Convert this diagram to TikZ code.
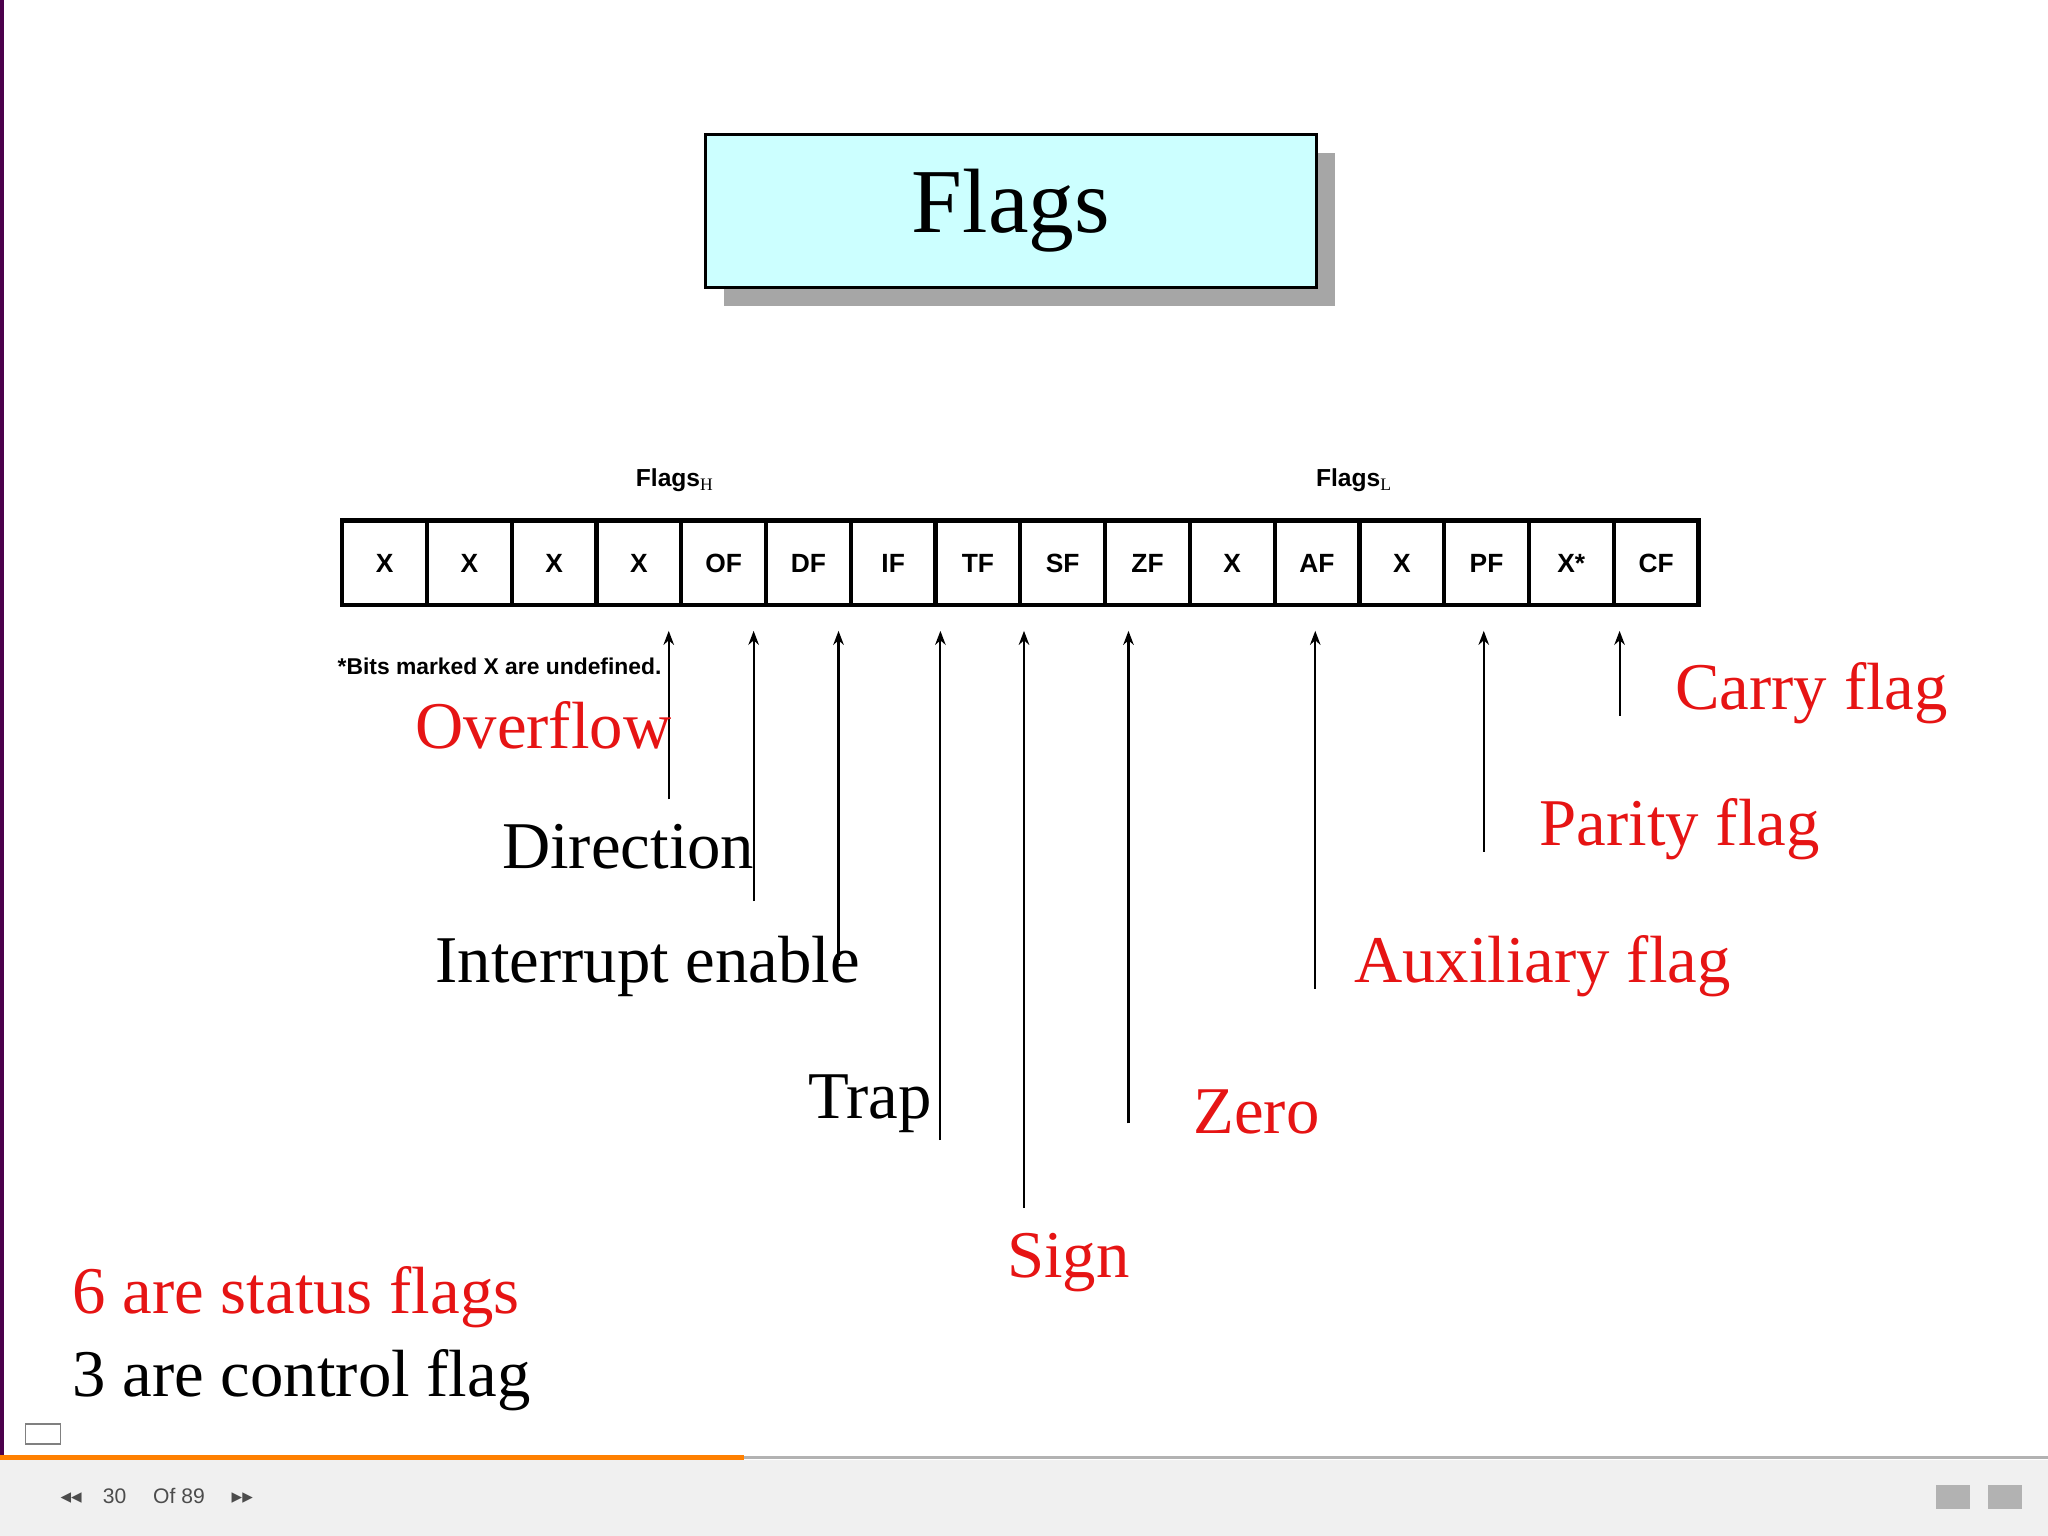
\documentclass[tikz,border=0pt]{standalone}
\usepackage{fontspec}
\setmainfont{Liberation Serif}
\setsansfont{Liberation Sans}
\newfontfamily\dejavu{DejaVu Sans}
\usetikzlibrary{arrows.meta}
\definecolor{lred}{RGB}{230,20,20}
\definecolor{lcyan}{RGB}{204,255,255}
\begin{document}
\begin{tikzpicture}[x=0.013061cm,y=-0.013061cm,
  cell/.style={draw,line width=1.2pt,minimum width=64.9*0.013061cm,minimum height=65*0.013061cm,inner sep=0pt,font=\sffamily\bfseries\fontsize{7.5}{9}\selectfont},
  lab/.style={font=\fontsize{19}{22}\selectfont,inner sep=0pt},
  arr/.style={-{Stealth[length=4pt,width=3pt]},line width=0.6pt}]
\useasboundingbox (0,0) rectangle (1568,1176);
\fill[white] (0,0) rectangle (1568,1176);
\draw[line width=1.5pt,violet!60!black] (1,0)--(1,1120);
% title
\fill[gray!70] (554,117) rectangle (1022,234);
\node[draw,fill=lcyan,line width=1pt,minimum width=468*0.013061cm,minimum height=117*0.013061cm,font=\fontsize{26}{30}\selectfont] (title) at (774,161.5) {Flags};
% register
\foreach \t [count=\i from 0] in {X,X,X,X,OF,DF,IF,TF,SF,ZF,X,AF,X,PF,X*,CF}{
  \node[cell] (c\i) at (262+32.45+64.9*\i,431) {\t};
}
\node[font=\sffamily\bfseries\fontsize{7}{8}\selectfont] (fh) at (517,368) {Flags$_\mathrm{H}$};
\node[font=\sffamily\bfseries\fontsize{7}{8}\selectfont] (fl) at (1037,368) {Flags$_\mathrm{L}$};
\node[anchor=west,font=\sffamily\bfseries\fontsize{6.5}{7}\selectfont,inner sep=0pt] (note) at (258,510) {*Bits marked X are undefined.};
% arrows
\foreach \n/\x/\b in {of/512/612,df/577/690,if/642/735,tf/720/873,sf/784/925,zf/864/860,af/1007/757,pf/1136/652,cf/1240/548}{
  \coordinate (\n b) at (\x,\b);
  \coordinate (\n t) at (\x,483);
  \draw[arr] (\n b) -- (\n t);
}
\node[lab,text=lred] (ov) at (416,555) {Overflow};
\node[lab] (dir) at (481,648) {Direction};
\node[lab] (ie) at (496,740) {Interrupt enable};
\node[lab] (tr) at (666,845) {Trap};
\node[lab,text=lred] (sg) at (818,967) {Sign};
\node[lab,text=lred] (zr) at (962,851) {Zero};
\node[lab,text=lred] (au) at (1181,740) {Auxiliary flag};
\node[lab,text=lred] (pa) at (1286,635) {Parity flag};
\node[lab,text=lred] (ca) at (1387,531) {Carry flag};
\node[lab,text=lred,anchor=west] (s6) at (55,993) {6 are status flags};
\node[lab,anchor=west] (s3) at (55,1057) {3 are control flag};
% bottom bar
\fill[gray!12] (0,1118) rectangle (1568,1176);
\draw[orange,line width=1.5pt] (0,1116) -- (570,1116);
\draw[gray!60,line width=0.8pt] (570,1116) -- (1568,1116);
\node[draw=gray,fill=white,minimum width=0.35cm,minimum height=0.2cm,inner sep=0pt] (ic) at (33,1098) {};
\node[font=\sffamily\fontsize{6}{7}\selectfont,text=gray!60!black] (pg) at (120,1145) {{\dejavu ◂◂}\quad 30 \quad Of 89 \quad {\dejavu ▸▸}};
\fill[gray!60] (1482,1137) rectangle (1508,1155);
\fill[gray!60] (1522,1137) rectangle (1548,1155);
\end{tikzpicture}
\end{document}
